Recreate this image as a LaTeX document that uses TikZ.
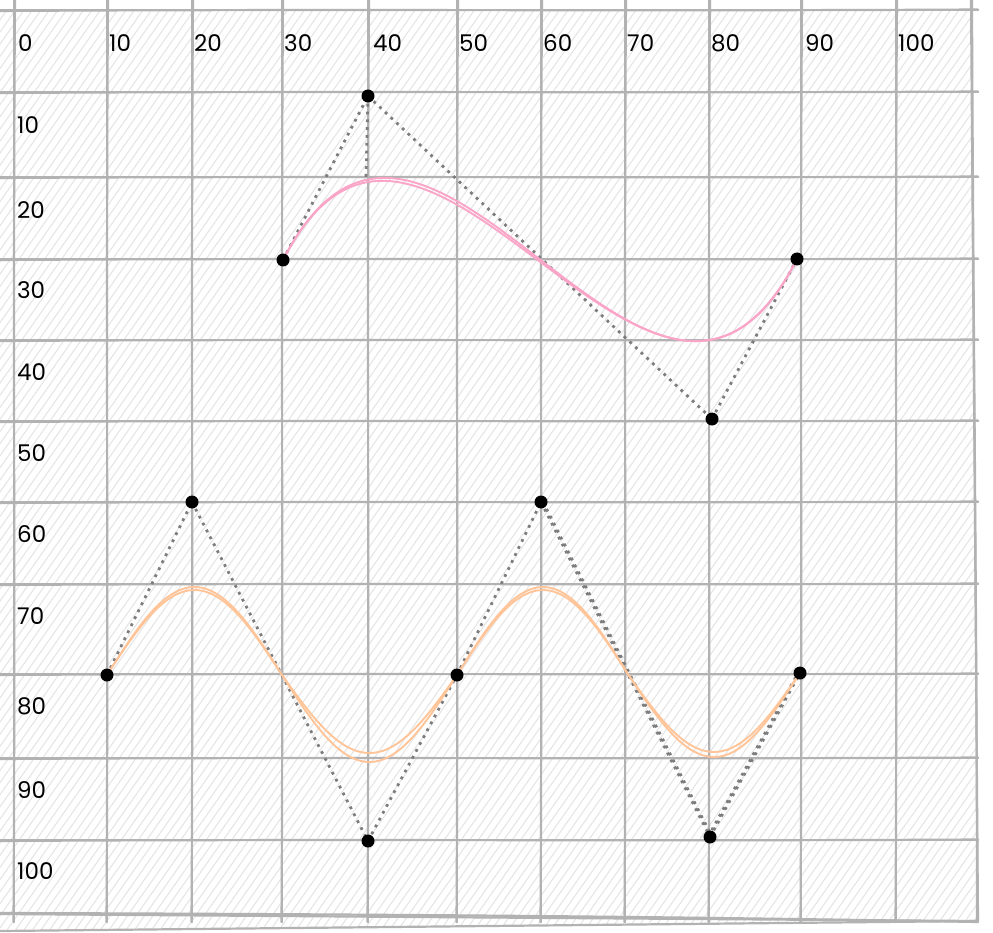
\documentclass[tikz,border=0pt]{standalone}
\usepackage{fontspec}
\setmainfont{Poppins}
\definecolor{gridc}{RGB}{178,178,178}
\definecolor{hatchc}{RGB}{228,228,228}
\definecolor{dotc}{RGB}{125,125,125}
\definecolor{pinkc}{RGB}{250,165,200}
\definecolor{orangec}{RGB}{255,196,152}
\begin{document}
\begin{tikzpicture}[x=1pt,y=-1pt,
  gridline/.style={draw=gridc,line width=2.2pt,line cap=round},
  hatch/.style={draw=hatchc,line width=1pt},
  guide/.style={draw=dotc,line width=2.8pt,dash pattern=on 2.8pt off 5pt},
  pinkline/.style={draw=pinkc,line width=1.9pt},
  orangeline/.style={draw=orangec,line width=1.9pt},
  dot/.style={circle,fill=black,inner sep=0pt,minimum size=13pt},
  lab/.style={anchor=west,inner sep=0pt,font=\fontsize{23}{23}\selectfont}]
\useasboundingbox (0,0) rectangle (993,933);
\fill[white] (0,0) rectangle (993,933);
% hachure fill
\begin{scope}
  \clip (0,10) -- (972,10) -- (978,921) -- (0,930) -- cycle;
  \foreach \i in {-80,...,118} {
    \draw[hatch] (\i*8.5,940) -- ++(660,-940);
  }
\end{scope}
% grid lines
\foreach \y in {10,92,177,259,340,421,502,584,674,758,840} {
  \draw[gridline] (0,\y) -- (978,\y);
  \draw[gridline] (0,\y+1) .. controls (330,\y-1.2) and (650,\y+1.4) .. (978,\y-0.5);
}
\draw[gridline] (0,914) -- (978,921);
\draw[gridline] (0,913) .. controls (330,914) and (650,916) .. (978,922);
\draw[gridline] (0,931) -- (978,921);
\foreach \x in {14,107,192,282,368,457,541,625,709,801,896} {
  \draw[gridline] (\x,0) -- (\x,922);
  \draw[gridline] (\x+1,0) .. controls (\x-1.2,300) and (\x+1.4,620) .. (\x-0.5,922);
}
\draw[gridline] (971,0) -- (978,921);
\draw[gridline] (972,0) .. controls (973,300) and (977,620) .. (977,922);
% labels
\node[lab] (t0) at (18,43) {0};
\node[lab] (t10) at (109,43) {10};
\node[lab] (t20) at (194,43) {20};
\node[lab] (t30) at (284,43) {30};
\node[lab] (t40) at (373,43) {40};
\node[lab] (t50) at (459,43) {50};
\node[lab] (t60) at (543,43) {60};
\node[lab] (t70) at (627,43) {70};
\node[lab] (t80) at (711,43) {80};
\node[lab] (t90) at (805,43) {90};
\node[lab] (t100) at (898,43) {100};
\node[lab] (l10) at (17,125) {10};
\node[lab] (l20) at (17,210) {20};
\node[lab] (l30) at (17,290) {30};
\node[lab] (l40) at (17,372) {40};
\node[lab] (l50) at (17,453) {50};
\node[lab] (l60) at (17,534) {60};
\node[lab] (l70) at (17,616) {70};
\node[lab] (l80) at (17,706) {80};
\node[lab] (l90) at (17,790) {90};
\node[lab] (l100) at (17,871) {100};
% pink curve points
\coordinate (a0) at (283,260);
\coordinate (a1) at (368,96);
\coordinate (a2) at (712,419);
\coordinate (a3) at (797,259);
\coordinate (a1b) at (366,178);
\coordinate (ac1) at (429,-24);
\coordinate (ac2) at (651,543);
\coordinate (ad1) at (425,-16);
\coordinate (ad2) at (655,541);
% orange curve points
\coordinate (b0) at (107,675);
\coordinate (b1) at (192,502);
\coordinate (b2) at (368,841);
\coordinate (b3) at (457,675);
\coordinate (b4) at (541,502);
\coordinate (b5) at (710,837);
\coordinate (b6) at (800,673);
% guides
\draw[guide] (a0) -- (a1);
\draw[guide] (a1) -- (a2);
\draw[guide] (a2) -- (a3);
\draw[guide] (a1) -- (a1b);
\draw[guide] (b0) -- (b1);
\draw[guide] (b1) -- (b2);
\draw[guide] (b2) -- (b3);
\draw[guide] (b3) -- (b4);
\draw[guide] (b4) -- (b5);
\draw[guide] ([xshift=2pt]b4) -- ([xshift=2pt]b5);
\draw[guide] (b5) -- (b6);
\draw[guide] ([xshift=-2pt]b5) -- ([xshift=-2pt]b6);
% curves
\draw[pinkline] (a0) .. controls (ac1) and (ac2) .. (a3);
\draw[pinkline] (a0) .. controls (ad1) and (ad2) .. (a3);
\draw[orangeline] (b0) sin (194.5,587) cos (282,675) sin (369.5,753) cos (b3)
  sin (543,587) cos (628.5,675) sin (714,752) cos (b6);
\draw[orangeline] (b0) sin (194.5,590) cos (282,675) sin (369.5,762) cos (b3)
  sin (543,590) cos (628.5,675) sin (714,757) cos (b6);
% dots
\foreach \n in {a0,a1,a2,a3,b0,b1,b2,b3,b4,b5,b6} {
  \node[dot] (d\n) at (\n) {};
}
\end{tikzpicture}
\end{document}
